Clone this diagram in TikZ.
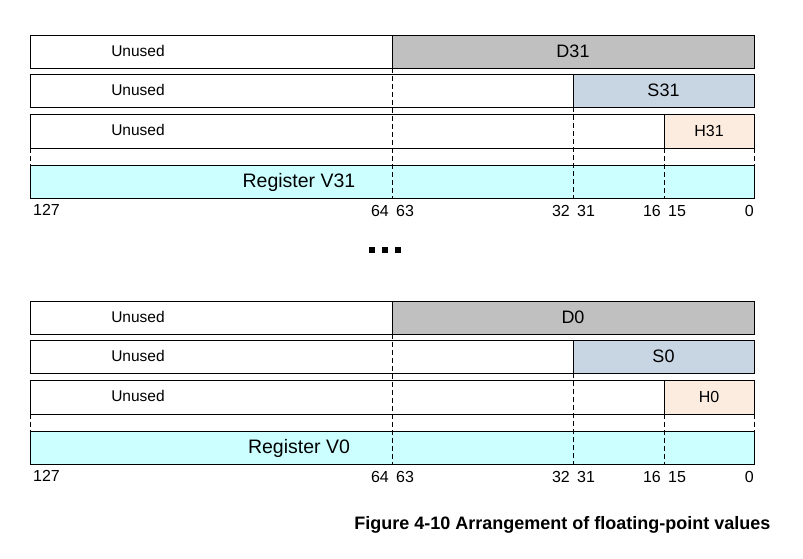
\documentclass[tikz,border=0pt]{standalone}
\usepackage{fontspec}
\setmainfont{Liberation Sans}
\definecolor{dgray}{RGB}{192,192,192}
\definecolor{sblue}{RGB}{200,214,228}
\definecolor{hpeach}{RGB}{252,236,224}
\definecolor{vcyan}{RGB}{204,255,255}
\tikzset{
  cell/.style={draw, line width=0.9pt, inner sep=0pt, font=\fontsize{18}{20}\selectfont},
  unused/.style={font=\fontsize{15.5}{18}\selectfont},
  guide/.style={dashed, line width=0.7pt, dash pattern=on 5pt off 3pt},
  bitlbl/.style={font=\fontsize{16}{18}\selectfont, inner sep=0pt}
}
\begin{document}
\begin{tikzpicture}[x=1pt,y=-1pt]
\useasboundingbox (0,0) rectangle (803,559);
\foreach \n/\oy in {31/0,0/266}{
  % rows of one register
  \draw[cell] (30,35+\oy) rectangle (392,68+\oy);
  \draw[cell,fill=dgray] (392,35+\oy) rectangle node (D\n) {D\n} (754,68+\oy);
  \draw[cell] (30,74+\oy) rectangle (573,107+\oy);
  \draw[cell,fill=sblue] (573,74+\oy) rectangle node (S\n) {S\n} (754,107+\oy);
  \draw[cell] (30,114+\oy) rectangle (664,148+\oy);
  \draw[cell,fill=hpeach] (664,114+\oy) rectangle node[font=\fontsize{16}{18}\selectfont] (H\n) {H\n} (754,148+\oy);
  \draw[cell,fill=vcyan] (30,165+\oy) rectangle (754,198+\oy);
  \foreach \yy in {51,90,130}
    \node[unused] at (138,\yy+\oy) {Unused};
  \node[font=\fontsize{19.5}{22}\selectfont] (V\n) at (299,182+\oy) {Register V\n};
  % guides
  \draw[guide] (392,68+\oy) -- (392,198+\oy);
  \draw[guide] (573,107+\oy) -- (573,198+\oy);
  \draw[guide] (664,148+\oy) -- (664,198+\oy);
  \draw[guide] (30,148+\oy) -- (30,165+\oy);
  \draw[guide] (754,148+\oy) -- (754,165+\oy);
  % bit numbers
  \node[bitlbl,anchor=base west] at (33,215+\oy) {127};
  \node[bitlbl,anchor=base east] at (389,216+\oy) {64};
  \node[bitlbl,anchor=base west] at (396,216+\oy) {63};
  \node[bitlbl,anchor=base east] at (570,216+\oy) {32};
  \node[bitlbl,anchor=base west] at (577,216+\oy) {31};
  \node[bitlbl,anchor=base east] at (661,216+\oy) {16};
  \node[bitlbl,anchor=base west] at (668,216+\oy) {15};
  \node[bitlbl,anchor=base east] at (754,216+\oy) {0};
}
\foreach \xx in {372,385,398}
  \fill (\xx-3,247) rectangle (\xx+3,253);
\node[anchor=east, font=\bfseries\fontsize{18}{20}\selectfont] (cap) at (774,525) {Figure 4-10 Arrangement of floating-point values};
\end{tikzpicture}
\end{document}
